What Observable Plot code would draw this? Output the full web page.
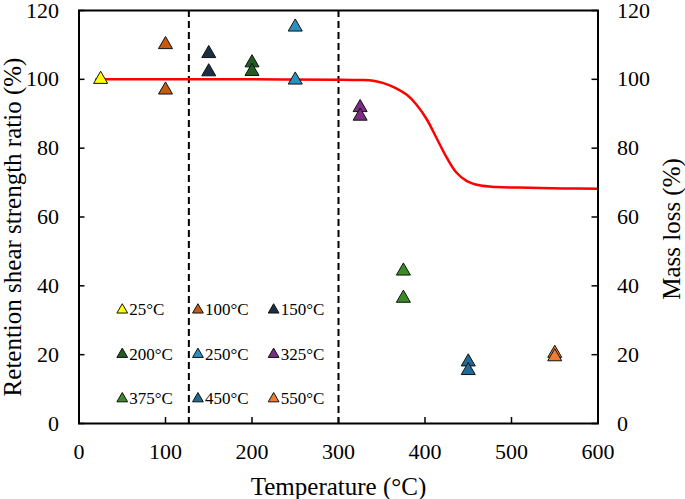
<!DOCTYPE html>
<html>
<head>
<meta charset="utf-8">
<script src="https://cdn.jsdelivr.net/npm/d3@7"></script>
<script src="https://cdn.jsdelivr.net/npm/@observablehq/plot@0.6"></script>
<style>
  body { margin: 0; background: #fff; }
</style>
</head>
<body>
<div id="chart"></div>
<script>
// Exposure temperature groups and their marker colours
const groups = ["25°C", "100°C", "150°C", "200°C", "250°C", "325°C", "375°C", "450°C", "550°C"];
const groupColors = ["#ffff00", "#c55a11", "#1b2e44", "#215c22", "#2b90c0", "#7b2c83", "#3b8a27", "#1f6b96", "#ed7d31"];

// Retention shear strength ratio samples
const sampleGroup = ["25°C", "100°C", "100°C", "150°C", "150°C", "200°C", "200°C", "250°C", "250°C",
                     "325°C", "325°C", "375°C", "375°C", "450°C", "450°C", "550°C", "550°C"];
const sampleTemp  = [25, 100, 100, 150, 150, 200, 200, 250, 250, 325, 325, 375, 375, 450, 450, 550, 550];
const sampleRatio = [100, 110.1, 96.9, 107.5, 102.2, 104.8, 102.3, 115.2, 99.8, 91.8, 89.3, 44.3, 36.4, 17.9, 15.4, 20.4, 19.4];

// TGA mass curve
const tgaTemp = [20, 100, 200, 300, 325, 340, 352, 365, 379, 390, 402, 413, 425, 436, 448, 463, 483, 520, 560, 600];
const tgaMass = [100, 100, 100, 99.9, 99.8, 99.6, 98.9, 97.6, 95.5, 92.7, 88.4, 83.1, 77.3, 73.0, 70.5, 69.2, 68.7, 68.5, 68.3, 68.2];

// Dashed dividers and ticks
const dividerTemps = [127, 300];
const xTicks = [0, 100, 200, 300, 400, 500, 600];
const yTicks = [0, 20, 40, 60, 80, 100, 120];

const W = 685, H = 499;
const M = {left: 78.5, right: 87.5, top: 10, bottom: 76};
const plotW = W - M.left - M.right;
const plotH = H - M.top - M.bottom;
const font = "'Liberation Serif', 'Times New Roman', serif";

const points = sampleTemp.map((t, i) => ({temp: t, ratio: sampleRatio[i], group: sampleGroup[i]}));
const tga = tgaTemp.map((t, i) => ({temp: t, mass: tgaMass[i]}));

// legend laid out as a 3x3 grid inside the plot area
const legend = groups.map((g, i) => ({group: g, col: i % 3, row: Math.floor(i / 3)}));
const legX = d => 50 + d.col * 87.5;
const legY = d => 33 - d.row * 12.9;

const chart = Plot.plot({
  width: W,
  height: H,
  marginLeft: M.left,
  marginRight: M.right,
  marginTop: M.top,
  marginBottom: M.bottom,
  style: {background: "#fff", fontFamily: font, color: "#000"},
  x: {domain: [0, 600]},
  y: {domain: [0, 120]},
  color: {domain: groups, range: groupColors},
  marks: [
    // inward tick marks
    Plot.tickY(yTicks, {y: d => d, insetRight: plotW - 6, stroke: "#000", strokeWidth: 1.5}),
    Plot.tickY(yTicks, {y: d => d, insetLeft: plotW - 6, stroke: "#000", strokeWidth: 1.5}),
    Plot.tickX(xTicks, {x: d => d, insetTop: plotH - 6, stroke: "#000", strokeWidth: 1.5}),
    Plot.axisX(xTicks, {tickSize: 0, tickPadding: 20, fontSize: 22, label: null}),
    Plot.axisY(yTicks, {anchor: "left", tickSize: 0, tickPadding: 20, fontSize: 22, label: null}),
    Plot.axisY(yTicks, {anchor: "right", tickSize: 0, tickPadding: 19, fontSize: 22, label: null}),

    Plot.ruleX(dividerTemps, {x: d => d, stroke: "#000", strokeWidth: 2, strokeDasharray: "7,4"}),
    Plot.line(tga, {x: "temp", y: "mass", stroke: "#ff0000", strokeWidth: 2.5, curve: "catmull-rom"}),
    Plot.dot(points, {x: "temp", y: "ratio", fill: "group", symbol: "triangle", r: 5.2, stroke: "#111", strokeWidth: 1}),

    // legend
    Plot.dot(legend, {x: legX, y: legY, fill: "group", symbol: "triangle", r: 4, stroke: "#111", strokeWidth: 1}),
    Plot.text(legend, {x: legX, y: legY, text: "group", dx: 7, textAnchor: "start", fontSize: 17, fill: "#000"}),

    // axis titles
    Plot.text(["Temperature (°C)"], {text: d => d, frameAnchor: "bottom", dy: 63, textAnchor: "middle", lineAnchor: "middle", fontSize: 25, fill: "#000"}),
    Plot.text(["Retention shear strength ratio (%)"], {text: d => d, frameAnchor: "left", dx: -66, dy: 10, rotate: -90, textAnchor: "middle", lineAnchor: "middle", fontSize: 25, fill: "#000"}),
    Plot.text(["Mass loss (%)"], {text: d => d, frameAnchor: "right", dx: 74, dy: 12, rotate: -90, textAnchor: "middle", lineAnchor: "middle", fontSize: 25, fill: "#000"}),

    Plot.frame({stroke: "#000", strokeWidth: 2})
  ]
});

document.getElementById("chart").appendChild(chart);
</script>
</body>
</html>
